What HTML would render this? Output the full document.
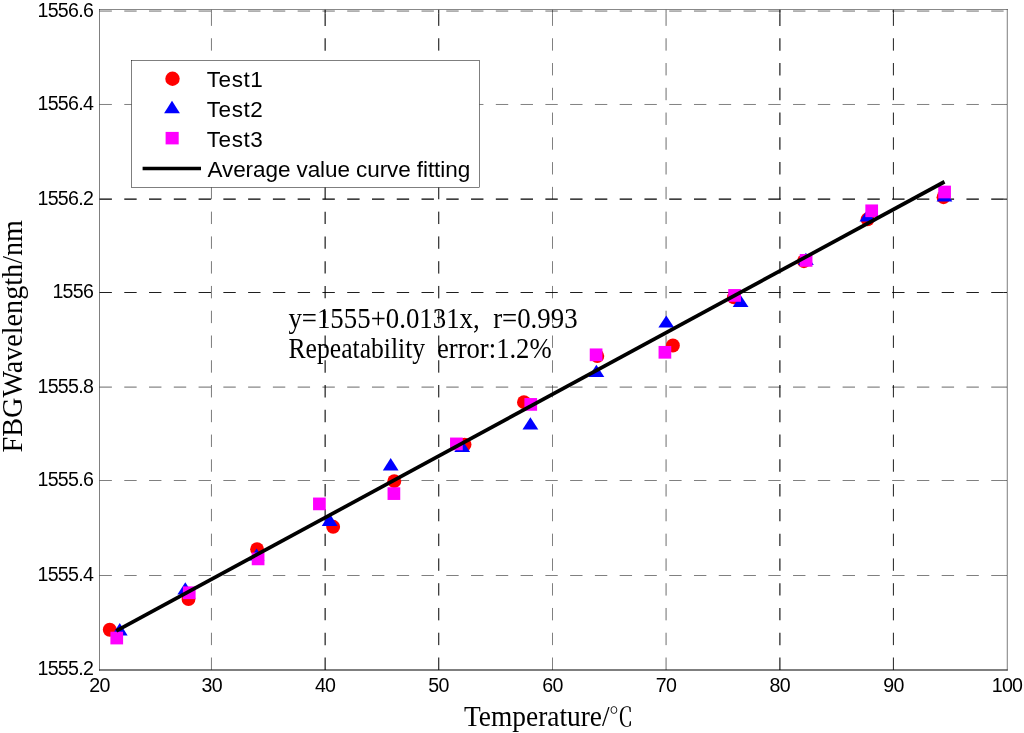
<!DOCTYPE html>
<html lang="en"><head><meta charset="utf-8"><title>FBG wavelength vs temperature</title>
<style>html,body{margin:0;padding:0;background:#fff}body{width:1024px;height:733px;overflow:hidden}svg{display:block}.t{font-family:"Liberation Sans",sans-serif;font-size:19.6px;letter-spacing:-0.7px;fill:#000}.lg{font-family:"Liberation Sans",sans-serif;font-size:22.5px;fill:#000}.s{font-family:"Liberation Serif","Noto Serif CJK SC",serif;fill:#000}</style></head><body>
<svg width="1024" height="733" viewBox="0 0 1024 733">
<rect width="1024" height="733" fill="#fff"/>
<g stroke="#000" stroke-dasharray="12.4 12.37" fill="none">
<path d="M211.45 669.9V9.5" stroke-width="0.52"/>
<path d="M325.13 669.9V9.5" stroke-width="1.08"/>
<path d="M438.75 669.9V9.5" stroke-width="1.0"/>
<path d="M552.5 669.9V9.5" stroke-width="0.5"/>
<path d="M666.07 669.9V9.5" stroke-width="0.58"/>
<path d="M779.9 669.9V9.5" stroke-width="1.08"/>
<path d="M893.4 669.9V9.5" stroke-width="0.88"/>
<path d="M99.5 104.47H1007.3" stroke-width="0.5"/>
<path d="M99.5 199.14H1007.3" stroke-width="1.04"/>
<path d="M99.5 292.5H1007.3" stroke-width="0.88"/>
<path d="M99.5 387.1H1007.3" stroke-width="0.6"/>
<path d="M99.5 480.5H1007.3" stroke-width="0.5"/>
<path d="M99.5 575.5H1007.3" stroke-width="0.5"/>
<path d="M99.5 11.05H1007.3" stroke-width="0.58"/>
</g>
<g stroke="#000" fill="none">
<path d="M211.45 9.8V13.5" stroke-width="0.52"/>
<path d="M325.13 9.8V13.5" stroke-width="1.08"/>
<path d="M438.75 9.8V13.5" stroke-width="1.0"/>
<path d="M552.5 9.8V13.5" stroke-width="0.5"/>
<path d="M666.07 9.8V13.5" stroke-width="0.58"/>
<path d="M779.9 9.8V13.5" stroke-width="1.08"/>
<path d="M893.4 9.8V13.5" stroke-width="0.88"/>
<path d="M1003.5 104.47H1007" stroke-width="0.5"/>
<path d="M1003.5 199.14H1007" stroke-width="1.04"/>
<path d="M1003.5 292.5H1007" stroke-width="0.88"/>
<path d="M1003.5 387.1H1007" stroke-width="0.6"/>
<path d="M1003.5 480.5H1007" stroke-width="0.5"/>
<path d="M1003.5 575.5H1007" stroke-width="0.5"/>
</g>
<g stroke="#000" fill="none">
<path d="M99.5 9V670.6" stroke-width="0.5"/>
<path d="M1007.27 9V670.6" stroke-width="0.52"/>
<path d="M99 9.5H1007.6" stroke-width="0.47"/>
<path d="M99 670.1H1007.6" stroke-width="1.02"/>
</g>
<g fill="#ff0000">
<circle cx="109.75" cy="629.75" r="6.95"/>
<circle cx="188.5" cy="599.1" r="6.95"/>
<circle cx="257.1" cy="549.2" r="6.95"/>
<circle cx="333.15" cy="526.8" r="6.95"/>
<circle cx="394.25" cy="481.2" r="6.95"/>
<circle cx="464.55" cy="444.6" r="6.95"/>
<circle cx="523.95" cy="402.2" r="6.95"/>
<circle cx="597.3" cy="356.05" r="6.95"/>
<circle cx="672.9" cy="345.5" r="6.95"/>
<circle cx="733.95" cy="297.3" r="6.95"/>
<circle cx="803.95" cy="261.2" r="6.95"/>
<circle cx="867.6" cy="219.3" r="6.95"/>
<circle cx="943.5" cy="197.2" r="6.95"/>
</g>
<g fill="#0000ff">
<path d="M119.75 622.9L127.65 635.4H111.85Z"/>
<path d="M185.3 582.25L193.20000000000002 594.6H177.4Z"/>
<path d="M256.6 548.5L264.5 560.6H248.70000000000002Z"/>
<path d="M329.65 513.3L337.54999999999995 525.9H321.75Z"/>
<path d="M390.7 458.1L398.59999999999997 470.6H382.8Z"/>
<path d="M462.2 439.9L470.09999999999997 452.1H454.3Z"/>
<path d="M530.4 417.25L538.3 429.6H522.5Z"/>
<path d="M596.4 364.75L604.3 376.9H588.5Z"/>
<path d="M666.25 315.4L674.15 327.5H658.35Z"/>
<path d="M740.6 294.9L748.5 307.1H732.7Z"/>
<path d="M805.9 252.75L813.8 264.9H798.0Z"/>
<path d="M867.4 209.5L875.3 221.6H859.5Z"/>
<path d="M944.45 189.4L952.35 201.5H936.5500000000001Z"/>
</g>
<g fill="#ff00ff">
<rect x="110.40" y="631.70" width="12.7" height="12.7"/>
<rect x="182.90" y="586.40" width="12.7" height="12.7"/>
<rect x="251.75" y="552.55" width="12.7" height="12.7"/>
<rect x="313.05" y="497.55" width="12.7" height="12.7"/>
<rect x="387.55" y="487.25" width="12.7" height="12.7"/>
<rect x="450.05" y="437.55" width="12.7" height="12.7"/>
<rect x="524.40" y="398.05" width="12.7" height="12.7"/>
<rect x="589.75" y="348.45" width="12.7" height="12.7"/>
<rect x="658.55" y="345.95" width="12.7" height="12.7"/>
<rect x="728.25" y="289.05" width="12.7" height="12.7"/>
<rect x="799.75" y="254.05" width="12.7" height="12.7"/>
<rect x="865.35" y="204.45" width="12.7" height="12.7"/>
<rect x="938.25" y="185.65" width="12.7" height="12.7"/>
</g>
<path d="M116.3 630.85L944.5 181.75" stroke="#000" stroke-width="3.7" fill="none"/>
<rect x="131.5" y="60.5" width="348" height="127" fill="#fff" stroke="#000" stroke-width="0.5"/>
<circle cx="172.5" cy="78.75" r="7.2" fill="#ff0000"/>
<path d="M172 100.8L179.9 113.3H164.1Z" fill="#0000ff"/>
<rect x="165.6" y="131.9" width="13.1" height="12.5" fill="#ff00ff"/>
<path d="M142.6 168.6H201" stroke="#000" stroke-width="3.5"/>
<text class="lg" x="206.8" y="87" style="letter-spacing:.55px">Test1</text>
<text class="lg" x="206.8" y="117.4" style="letter-spacing:.55px">Test2</text>
<text class="lg" x="206.8" y="146.6" style="letter-spacing:.55px">Test3</text>
<text class="lg" x="207.5" y="177" style="letter-spacing:-.08px">Average value curve fitting</text>
<text class="t" x="93.2" y="16.55" text-anchor="end">1556.6</text>
<text class="t" x="93.2" y="109.90" text-anchor="end">1556.4</text>
<text class="t" x="93.2" y="204.60" text-anchor="end">1556.2</text>
<text class="t" x="93.2" y="297.90" text-anchor="end">1556</text>
<text class="t" x="93.2" y="392.60" text-anchor="end">1555.8</text>
<text class="t" x="93.2" y="485.90" text-anchor="end">1555.6</text>
<text class="t" x="93.2" y="580.90" text-anchor="end">1555.4</text>
<text class="t" x="93.2" y="675.40" text-anchor="end">1555.2</text>
<text class="t" x="99.4" y="692" text-anchor="middle">20</text>
<text class="t" x="211.8" y="692" text-anchor="middle">30</text>
<text class="t" x="325.1" y="692" text-anchor="middle">40</text>
<text class="t" x="438.5" y="692" text-anchor="middle">50</text>
<text class="t" x="552.4" y="692" text-anchor="middle">60</text>
<text class="t" x="666.0" y="692" text-anchor="middle">70</text>
<text class="t" x="779.7" y="692" text-anchor="middle">80</text>
<text class="t" x="893.4" y="692" text-anchor="middle">90</text>
<text class="t" x="1007.0" y="692" text-anchor="middle">100</text>
<text class="s" x="288.4" y="327.8" font-size="29.3" textLength="289.2" lengthAdjust="spacingAndGlyphs" xml:space="preserve" style="white-space:pre">y=1555+0.0131x,  r=0.993</text>
<text class="s" y="357.8" font-size="29.3"><tspan x="288.5" textLength="136.6" lengthAdjust="spacingAndGlyphs">Repeatability</tspan> <tspan x="437" textLength="114.6" lengthAdjust="spacingAndGlyphs">error:1.2%</tspan></text>
<text class="s" x="464" y="725.7" font-size="28.4"><tspan textLength="145.6" lengthAdjust="spacingAndGlyphs">Temperature/</tspan><tspan x="608.8" font-size="24.6">℃</tspan></text>
<text class="s" transform="translate(21.6 452.4) rotate(-90)" font-size="28.8" textLength="232.4" lengthAdjust="spacingAndGlyphs">FBGWavelength/nm</text>
</svg></body></html>
